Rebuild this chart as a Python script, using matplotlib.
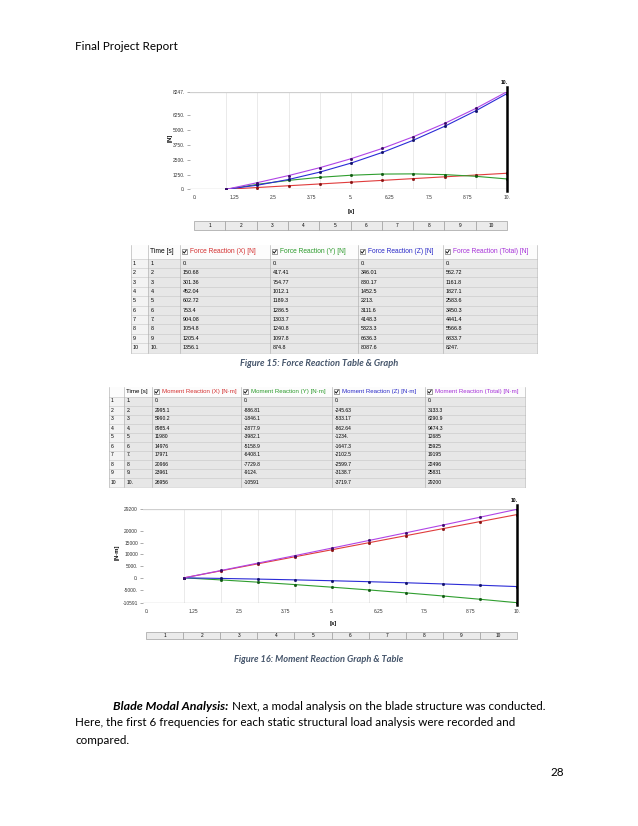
import matplotlib
matplotlib.use("Agg")
import matplotlib.pyplot as plt
from matplotlib.patches import Rectangle

W, H = 638, 826

# Data (ANSYS reaction results, time steps 1..10)
time_s = [1, 2, 3, 4, 5, 6, 7, 8, 9, 10]

force_x = [0, 150.68, 301.36, 452.04, 602.72, 753.4, 904.08, 1054.8, 1205.4, 1356.1]
force_y = [0, 417.41, 754.77, 1012.1, 1189.3, 1286.5, 1303.7, 1240.8, 1097.8, 874.8]
force_z = [0, 346.01, 830.17, 1452.5, 2213, 3111.6, 4148.3, 5323.3, 6636.3, 8087.6]
force_total = [0, 562.72, 1161.8, 1827.1, 2583.6, 3450.3, 4441.4, 5566.8, 6833.7, 8247]

moment_x = [0, 2995.1, 5990.2, 8985.4, 11980, 14976, 17971, 20966, 23961, 26956]
moment_y = [0, -886.81, -1846.1, -2877.9, -3982.1, -5158.9, -6408.1, -7729.8, -9124, -10591]
moment_z = [0, -245.63, -533.17, -862.64, -1234, -1647.3, -2102.5, -2599.7, -3138.7, -3719.7]
moment_total = [0, 3133.3, 6290.9, 9474.3, 12685, 15925, 19195, 22496, 25831, 29200]

force_headers = ["Force Reaction (X) [N]", "Force Reaction (Y) [N]",
                 "Force Reaction (Z) [N]", "Force Reaction (Total) [N]"]
moment_headers = ["Moment Reaction (X) [N·m]", "Moment Reaction (Y) [N·m]",
                  "Moment Reaction (Z) [N·m]", "Moment Reaction (Total) [N·m]"]

x_ticks = [0, 1.25, 2.5, 3.75, 5, 6.25, 7.5, 8.75, 10]
x_tick_labels = ["0.", "1.25", "2.5", "3.75", "5.", "6.25", "7.5", "8.75", "10."]
force_ticks = [0, 1250, 2500, 3750, 5000, 6250, 8247]
force_tick_labels = ["0.", "1250.", "2500.", "3750.", "5000.", "6250.", "8247."]
moment_ticks = [-10591, -5000, 0, 5000, 10000, 15000, 20000, 29200]
moment_tick_labels = ["-10591", "-5000.", "0.", "5000.", "10000", "15000", "20000", "29200"]

# series colours (X, Y, Z, Total)
line_colors = ["#e03c3c", "#2f9e2f", "#2b2bd6", "#b044e6"]
mark_colors = ["#8a1010", "#105a10", "#10106a", "#3a0a6a"]
head_colors = ["#d42f2f", "#2a9a2a", "#2828c8", "#a52fd8"]

BODY = "Lato"
UI = "Liberation Sans"
BODY_FS = 8.4


def fmt(v):
    # ANSYS style: 5 significant digits, trailing dot on short integers
    s = f"{v:.5g}"
    if "." not in s and len(s.lstrip("-")) < 5:
        s += "."
    return s


fig = plt.figure(figsize=(W / 100, H / 100), dpi=100)
page = fig.add_axes([0, 0, 1, 1])
page.set_xlim(0, W)
page.set_ylim(H, 0)
page.axis("off")


def px_axes(x0, x1, y0, y1):
    return fig.add_axes([x0 / W, 1 - y1 / H, (x1 - x0) / W, (y1 - y0) / H])


def draw_table(edges, top, head_h, row_h, headers, columns, head_fs, cell_fs):
    n = len(columns[0])
    body_top = top + head_h
    bottom = body_top + n * row_h
    page.add_patch(Rectangle((edges[0], top), edges[-1] - edges[0], head_h,
                             fc="#fcfcfc", ec="none"))
    page.add_patch(Rectangle((edges[1], body_top), edges[-1] - edges[1], n * row_h,
                             fc="#e7e7e7", ec="none"))
    page.add_patch(Rectangle((edges[0], body_top), edges[1] - edges[0], n * row_h,
                             fc="#f3f3f3", ec="none"))
    for i in range(n + 1):
        y = body_top + i * row_h
        page.plot([edges[0], edges[-1]], [y, y], color="#c6c6c6", lw=0.4)
    for x in edges:
        page.plot([x, x], [top, bottom], color="#a9a9a9", lw=0.4)
    yc = top + head_h / 2
    page.text(edges[1] + 2, yc, "Time [s]", fontsize=head_fs, family=UI,
              va="center", ha="left")
    for j, h in enumerate(headers):
        x = edges[j + 2]
        page.add_patch(Rectangle((x + 2, yc - 2.6), 5.2, 5.2, fc="white",
                                 ec="#555555", lw=0.4))
        page.plot([x + 3.1, x + 4.3, x + 6.2], [yc, yc + 1.4, yc - 1.6],
                  color="black", lw=0.6)
        page.text(x + 10, yc, h, fontsize=head_fs, family=UI, color=head_colors[j],
                  va="center", ha="left")
    for i in range(n):
        y = body_top + (i + 0.5) * row_h
        page.text(edges[0] + 1.5, y, str(i + 1), fontsize=cell_fs, family=UI,
                  va="center", ha="left")
        for j, col in enumerate(columns):
            page.text(edges[j + 1] + 3, y, col[i], fontsize=cell_fs, family=UI,
                      va="center", ha="left")


def draw_steps(x0, x1, y0, y1):
    w = (x1 - x0) / len(time_s)
    for i, t in enumerate(time_s):
        page.add_patch(Rectangle((x0 + i * w, y0), w, y1 - y0, fc="#ebebeb",
                                 ec="#a0a0a0", lw=0.5))
        page.text(x0 + (i + 0.5) * w, (y0 + y1) / 2, str(t), fontsize=3.4,
                  family=UI, ha="center", va="center")


def draw_chart(box, xlim, series, ylim, yticks, ylabels):
    ax = px_axes(*box)
    ax.set_facecolor("none")
    for vals, c, mc in zip(series, line_colors, mark_colors):
        ax.plot(time_s, vals, color=c, lw=0.8, marker="s", ms=1.0,
                mfc=mc, mec=mc, zorder=3)
    ax.set_xlim(*xlim)
    ax.set_ylim(*ylim)
    for s in ax.spines.values():
        s.set_visible(False)
    ax.axhline(ylim[1], color="#cfcfcf", lw=0.9)
    ax.axhline(ylim[0], color="#b5b5b5", lw=0.9)
    for t in time_s:
        ax.axvline(t, color="#e2e2e2", lw=0.5, zorder=0)
    ax.axvline(10, ymin=-0.02, ymax=1.05, color="black", lw=1.8, clip_on=False, zorder=4)
    ax.set_xticks(x_ticks, x_tick_labels)
    ax.set_yticks(yticks, ylabels)
    ax.tick_params(axis="y", length=2.4, width=0.5, color="#8c8c8c", pad=1.2,
                   labelsize=3.5)
    ax.tick_params(axis="x", length=0, pad=4.2, labelsize=3.5)
    for lab in ax.get_xticklabels() + ax.get_yticklabels():
        lab.set_family(UI)
        lab.set_color("#333333")
    return ax


# page header
page.text(75, 47, "Final Project Report", fontsize=BODY_FS, family=BODY, va="center")

# Figure 15: force chart + table
draw_chart((190, 507, 91.7, 189.3), (-0.16, 10), [force_x, force_y, force_z, force_total],
           (0, 8247), force_ticks, force_tick_labels)
page.text(170, 138, "[N]", rotation=90, fontsize=4.2, fontweight="bold", family=UI,
          ha="center", va="center")
page.text(351, 212, "[s]", fontsize=4.2, fontweight="bold", family=UI,
          ha="center", va="center")
page.text(504, 82, "10.", fontsize=3.6, fontweight="bold", family=UI,
          ha="center", va="center")
draw_steps(194, 507, 221, 230)

force_cols = [[fmt(t) for t in time_s], [fmt(v) for v in force_x], [fmt(v) for v in force_y],
              [fmt(v) for v in force_z], [fmt(v) for v in force_total]]
draw_table([131, 148, 180, 270, 358, 443, 537], 245, 13.5, 9.4,
           force_headers, force_cols, 4.8, 3.9)

page.text(319, 364, "Figure 15: Force Reaction Table & Graph", fontsize=6.7,
          family=BODY, fontweight="bold", style="italic", color="#44546a",
          ha="center", va="center")

# Figure 16: moment table + chart
moment_cols = [[fmt(t) for t in time_s], [fmt(v) for v in moment_x], [fmt(v) for v in moment_y],
               [fmt(v) for v in moment_z], [fmt(v) for v in moment_total]]
draw_table([109, 124, 152, 241, 332, 425, 525], 387, 9.5, 9.0,
           moment_headers, moment_cols, 4.4, 3.6)

draw_chart((143, 517, 509.3, 602.7), (-0.108, 10),
           [moment_x, moment_y, moment_z, moment_total],
           (-10591, 29200), moment_ticks, moment_tick_labels)
page.text(117, 552, "[N·m]", rotation=90, fontsize=4.2, fontweight="bold", family=UI,
          ha="center", va="center")
page.text(333, 624, "[s]", fontsize=4.2, fontweight="bold", family=UI,
          ha="center", va="center")
page.text(514, 501, "10.", fontsize=3.6, fontweight="bold", family=UI,
          ha="center", va="center")
draw_steps(146, 517, 631.7, 639.3)

page.text(319, 660, "Figure 16: Moment Reaction Graph & Table", fontsize=6.7,
          family=BODY, fontweight="bold", style="italic", color="#44546a",
          ha="center", va="center")

# body text
page.text(113, 707, "Blade Modal Analysis:", fontsize=8.9, family=BODY,
          fontweight="bold", style="italic", va="center")
page.text(232, 707, "Next, a modal analysis on the blade structure was conducted.",
          fontsize=BODY_FS, family=BODY, va="center")
page.text(75, 723, "Here, the first 6 frequencies for each static structural load analysis "
          "were recorded and", fontsize=BODY_FS, family=BODY, va="center")
page.text(75, 740, "compared.", fontsize=BODY_FS, family=BODY, va="center")
page.text(550, 772, "28", fontsize=BODY_FS, family=BODY, va="center")

fig.savefig("out.png", dpi=100)
